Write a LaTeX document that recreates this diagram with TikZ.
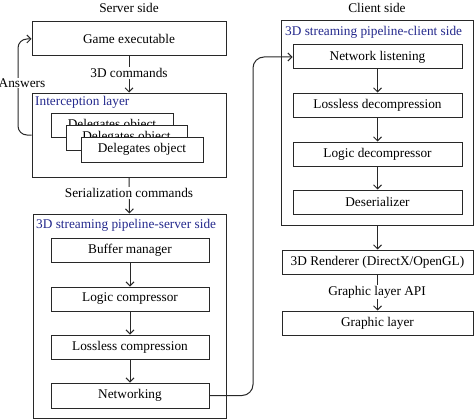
\documentclass[tikz,border=0pt]{standalone}
\usepackage{fontspec}
\setmainfont{Liberation Serif}
\usetikzlibrary{arrows.meta}
\definecolor{linec}{RGB}{40,40,40}
\definecolor{titleblue}{RGB}{35,40,140}
\tikzset{
  box/.style={draw=linec, line width=1pt, fill=white, inner sep=0pt, font=\fontsize{13.3}{15}\selectfont, text=black},
  frame/.style={draw=linec, line width=1pt, inner sep=0pt},
  ttl/.style={anchor=west, inner sep=0pt, text=titleblue, font=\fontsize{13.3}{15}\selectfont},
  lbl/.style={inner sep=1pt, fill=white, font=\fontsize{13.3}{15}\selectfont},
  hdr/.style={inner sep=0pt, font=\fontsize{13.3}{15}\selectfont},
  conn/.style={draw=linec, line width=1pt},
  arr/.style={conn, -{Straight Barb[length=4pt,width=8pt,line width=1pt]}}
}
\begin{document}
\begin{tikzpicture}[x=1pt,y=-1pt]
\useasboundingbox (0,0) rectangle (474,420);
% headers
\node[hdr] (srv) at (129,8) {Server side};
\node[hdr] (cli) at (377,8) {Client side};
% left column
\node[box, minimum width=194, minimum height=34] (game) at (129,39) {Game executable};
\node[frame, minimum width=194, minimum height=84] (icp) at (129,135) {};
\node[ttl] (icpt) at (35,102) {Interception layer};
\node[box, minimum width=122, minimum height=24] (d1) at (112,125) {Delegates object};
\node[box, minimum width=121, minimum height=25] (d2) at (126.5,137.5) {Delegates object};
\node[box, minimum width=122, minimum height=25] (d3) at (142,149.5) {Delegates object};
\node[frame, minimum width=193, minimum height=204] (srvbox) at (129.5,316) {};
\node[ttl] (srvt) at (36,225) {3D streaming pipeline-server side};
\node[box, minimum width=158, minimum height=24] (buf) at (130,250) {Buffer manager};
\node[box, minimum width=158, minimum height=24] (lc) at (130,299) {Logic compressor};
\node[box, minimum width=158, minimum height=24] (llc) at (130,347) {Lossless compression};
\node[box, minimum width=158, minimum height=25] (net) at (130,395.5) {Networking};
% right column
\node[frame, minimum width=192, minimum height=204] (clibox) at (377,123) {};
\node[ttl] (clit) at (285,32) {3D streaming pipeline-client side};
\node[box, minimum width=169, minimum height=24] (nl) at (377.5,57) {Network listening};
\node[box, minimum width=169, minimum height=24] (lld) at (377.5,105) {Lossless decompression};
\node[box, minimum width=169, minimum height=24] (ld) at (377.5,154) {Logic decompressor};
\node[box, minimum width=169, minimum height=24] (des) at (377.5,202) {Deserializer};
\node[box, minimum width=191, minimum height=24] (rend) at (377.5,262) {3D Renderer (DirectX/OpenGL)};
\node[box, minimum width=191, minimum height=24] (gl) at (377.5,323) {Graphic layer};
% connectors
\draw[arr] (game.south) -- (icp.north);
\node[lbl] (l3d) at (129,73) {3D commands};
\draw[arr] (icp.south) -- (srvbox.north);
\node[lbl] (lser) at (129,193) {Serialization commands};
\draw[arr] (buf) -- (lc);
\draw[arr] (lc) -- (llc);
\draw[arr] (llc) -- (net);
\draw[arr] (nl) -- (lld);
\draw[arr] (lld) -- (ld);
\draw[arr] (ld) -- (des);
\draw[arr] (clibox.south -| rend.north) -- (rend.north);
\draw[arr] (rend) -- (gl);
\node[lbl] (lapi) at (377,292) {Graphic layer API};
\coordinate (ansx) at (18,0);
\draw[arr, rounded corners=9pt] (icp.west) -| (ansx |- game.west) -- (game.west);
\node[lbl] (lans) at (22,83) {Answers};
\coordinate (netx) at (253,0);
\draw[arr, rounded corners=11pt] (net.east) -| (netx |- nl.west) -- (nl.west);
\end{tikzpicture}
\end{document}
